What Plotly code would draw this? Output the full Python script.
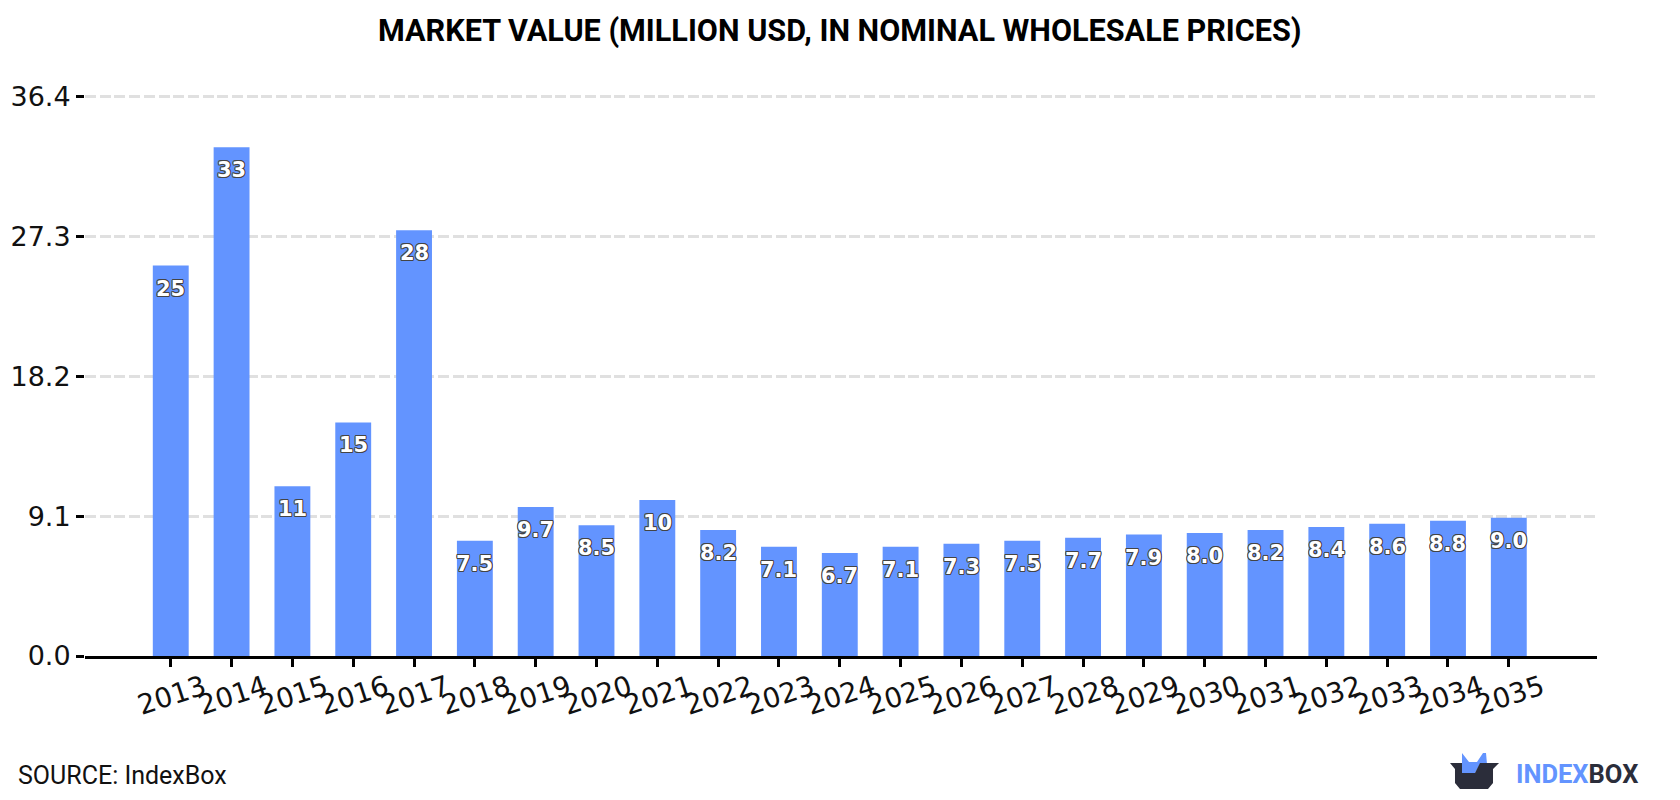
import plotly.graph_objects as go

years = [str(y) for y in range(2013, 2036)]
market_value = [25.4, 33.1, 11.05, 15.2, 27.7, 7.5, 9.7, 8.5, 10.15, 8.2, 7.1, 6.7,
                7.1, 7.3, 7.5, 7.7, 7.9, 8.0, 8.2, 8.4, 8.6, 8.8, 9.0]
y_ticks = [0.0, 9.1, 18.2, 27.3, 36.4]

WIDTH, HEIGHT = 1680, 800
M_L, M_R, M_T, M_B = 85, 83, 95, 144
BAR_BLUE = "#6394ff"
INK = "#2b2d3a"
OUTLINE = ",".join(f"{dx}px {dy}px 0 #444" for dx, dy in
                   [(1, 0), (-1, 0), (0, 1), (0, -1), (0.7, 0.7), (-0.7, -0.7), (0.7, -0.7), (-0.7, 0.7)])


def px(x, y):
    # page pixels to paper fractions of the plot box
    return (x - M_L) / (WIDTH - M_L - M_R), 1 - (y - M_T) / (HEIGHT - M_T - M_B)


def path(points):
    parts = []
    for i, (x, y) in enumerate(points):
        fx, fy = px(x, y)
        parts.append(("M" if i == 0 else "L") + f"{fx:.5f},{fy:.5f}")
    return " ".join(parts) + " Z"


def page_text(x, y, text, font, anchor="left"):
    fx, fy = px(x, y)
    return dict(x=fx, y=fy, xref="paper", yref="paper", showarrow=False,
                xanchor=anchor, yanchor="middle", text=text, font=font)


fig = go.Figure(go.Bar(x=years, y=market_value, marker_color=BAR_BLUE, marker_line_width=0,
                       hoverinfo="x+y"))

# Value labels sit a fixed distance below each bar top
annotations = [
    dict(x=i, y=v, xref="x", yref="y", yshift=-23, showarrow=False,
         text=f"{v:.0f}" if v >= 10 else f"{v:.1f}",
         font=dict(family="DejaVu Sans", size=21, color="white", weight="bold", shadow=OUTLINE))
    for i, v in enumerate(market_value)
]
annotations += [
    page_text(840, 31, "MARKET VALUE (MILLION USD, IN NOMINAL WHOLESALE PRICES)",
              dict(family="Roboto", size=30.6, color="black", weight="bold"), anchor="center"),
    page_text(16, 775.5, "SOURCE: IndexBox", dict(family="Roboto", size=25, color="#111111")),
    page_text(1514, 774,
              f'<span style="color:{BAR_BLUE}">INDEX</span><span style="color:{INK}">BOX</span>',
              dict(family="Roboto", size=25.5, weight="bold")),
]

# Logo: a dark open box with blue ears behind it
logo_shapes = [
    dict(type="path", xref="paper", yref="paper", line_width=0, fillcolor=BAR_BLUE,
         path=path([(1462, 773), (1462, 753), (1469, 762), (1477, 762), (1483, 753),
                    (1486, 753), (1487, 764), (1480, 764), (1475, 773)])),
    dict(type="path", xref="paper", yref="paper", line_width=0, fillcolor=INK,
         path=path([(1450, 763), (1462, 763), (1462, 773), (1475, 773), (1480, 763),
                    (1499, 763), (1493, 769), (1493, 783), (1488, 789), (1460, 789),
                    (1455, 783), (1455, 769)])),
]

fig.update_layout(
    width=WIDTH, height=HEIGHT, autosize=False,
    margin=dict(l=M_L, r=M_R, t=M_T, b=M_B, autoexpand=False),
    paper_bgcolor="white", plot_bgcolor="white",
    bargap=0.41, showlegend=False,
    annotations=annotations, shapes=logo_shapes,
    xaxis=dict(
        type="category", categoryorder="array", categoryarray=years,
        range=[-1.41, 23.45], showgrid=False, zeroline=False,
        showline=True, linecolor="black", linewidth=3,
        ticks="outside", ticklen=8, tickwidth=3, tickcolor="black",
        tickangle=-18, ticklabelshift=33, ticklabelstandoff=-6,
        tickfont=dict(family="DejaVu Sans", size=27.5, color="#111111"),
    ),
    yaxis=dict(
        # a little headroom so the top gridline is still drawn
        range=[0, 36.5], tickmode="array", tickvals=y_ticks,
        ticktext=[f"{t:.1f}" for t in y_ticks],
        showgrid=True, gridcolor="#e0e0e0", gridwidth=3, griddash="11px,3.7px",
        zeroline=False, showline=False,
        ticks="outside", ticklen=8, tickwidth=3, tickcolor="black",
        tickfont=dict(family="DejaVu Sans", size=27, color="#111111"),
    ),
)

fig.write_html("out.html")
